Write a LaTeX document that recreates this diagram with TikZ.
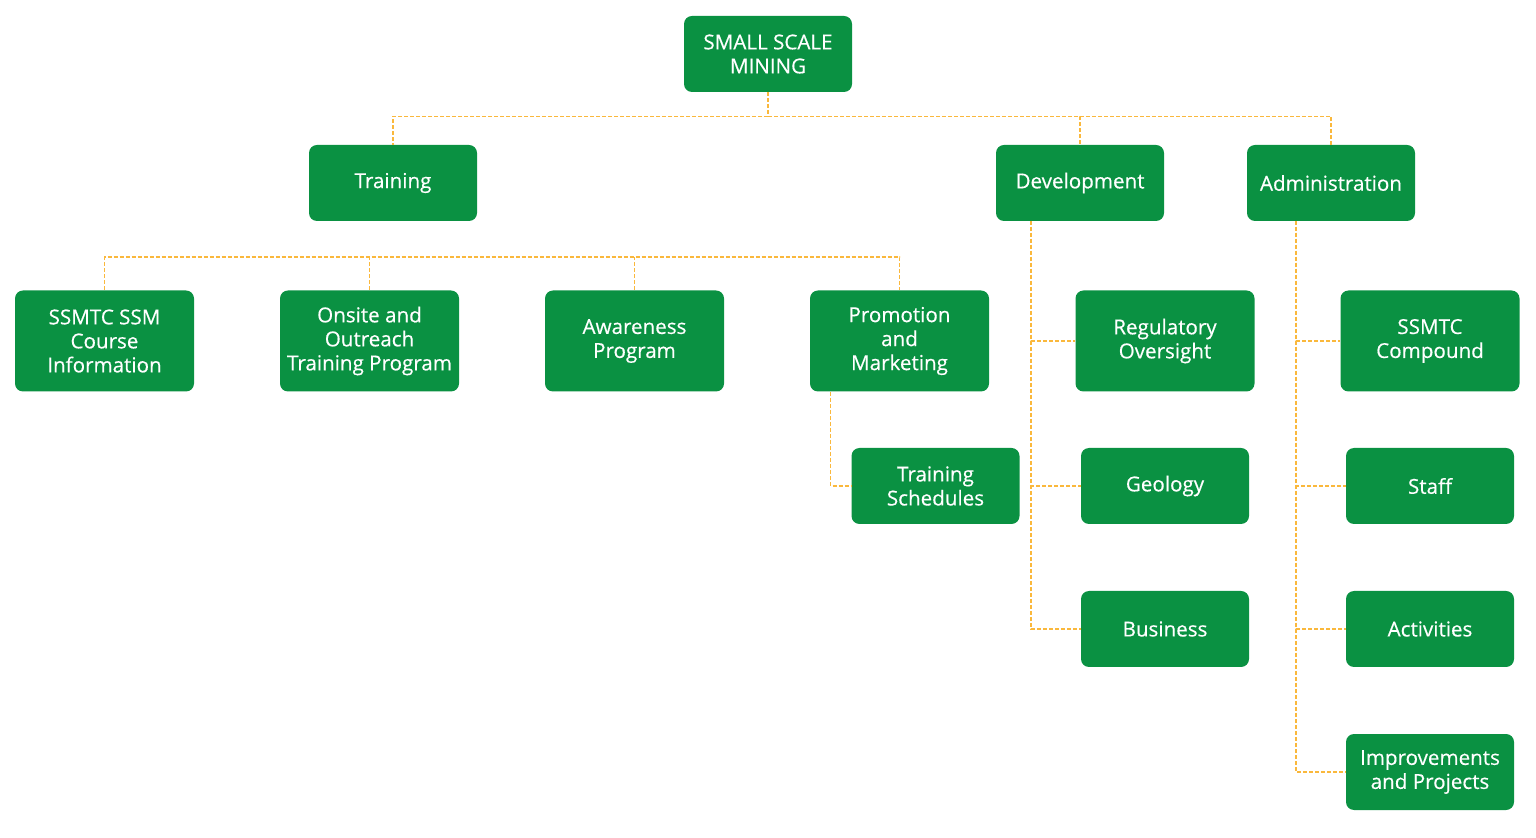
\documentclass[tikz,border=0pt]{standalone}
\usepackage{fontspec}
\setmainfont{Open Sans}
\newfontfamily\boxfont{Open Sans}[FakeBold=0.4]
\usepackage{xcolor}
\usepackage{tikz}
\usetikzlibrary{positioning}

\definecolor{boxgreen}{RGB}{10,145,66}
\definecolor{linkorange}{RGB}{250,184,60}

\begin{document}
\begin{tikzpicture}[
    x=0.5pt, y=-0.5pt,
    box/.style={fill=boxgreen, text=white, rounded corners=4pt,
                minimum width=84pt, minimum height=38pt,
                align=center, inner sep=2pt,
                font=\boxfont\fontsize{10.3}{12}\selectfont},
    tall/.style={box, minimum width=89.5pt, minimum height=50.5pt},
    link/.style={draw=linkorange, line width=0.7pt,
                 dash pattern=on 2pt off 1pt}
  ]
  \useasboundingbox (0,0) rectangle (1536,838);

  % Top
  \node[box] (root) at (768,54) {SMALL SCALE\\MINING};

  % Departments
  \node[box] (train) at (393,183) {Training};
  \node[box] (dev)   at (1080,183) {Development};
  \node[box] (admin) at (1331,183) {Administration};

  % Training units
  \node[tall] (ssm)    at (104.5,341) {SSMTC SSM\\Course\\Information};
  \node[tall] (onsite) at (369.5,341) {Onsite and\\Outreach\\Training Program};
  \node[tall] (aware)  at (634.5,341) {Awareness\\Program};
  \node[tall] (promo)  at (899.5,341) {Promotion\\and\\Marketing};
  \node[box]  (sched)  at (935.5,486) {Training\\Schedules};

  % Development units
  \node[tall] (reg)  at (1165,341) {Regulatory\\Oversight};
  \node[box]  (geo)  at (1165,486) {Geology};
  \node[box]  (bus)  at (1165,629) {Business};

  % Administration units
  \node[tall] (comp)  at (1430,341) {SSMTC\\Compound};
  \node[box]  (staff) at (1430,486) {Staff};
  \node[box]  (act)   at (1430,629) {Activities};
  \node[box]  (impr)  at (1430,772) {Improvements\\and Projects};

  % trunks
  \coordinate (devtrunk)   at (1031,221);
  \coordinate (admintrunk) at (1296,221);

  % connectors
  \draw[link] (root.south) -- ++(0,24) -| (train.north);
  \draw[link] (root.south) -- ++(0,24) -| (dev.north);
  \draw[link] (root.south) -- ++(0,24) -| (admin.north);

  \draw[link] (ssm.north) -- ++(0,-33) -| (promo.north);
  \draw[link] (onsite.north) -- ++(0,-33);
  \draw[link] (aware.north) -- ++(0,-33);
  \draw[link] ([xshift=10.5pt]promo.south west) |- (sched.west);

  \draw[link] (devtrunk) |- (bus.west);
  \draw[link] (devtrunk) |- (reg.west);
  \draw[link] (devtrunk) |- (geo.west);

  \draw[link] (admintrunk) |- (impr.west);
  \draw[link] (admintrunk) |- (comp.west);
  \draw[link] (admintrunk) |- (staff.west);
  \draw[link] (admintrunk) |- (act.west);
\end{tikzpicture}
\end{document}
